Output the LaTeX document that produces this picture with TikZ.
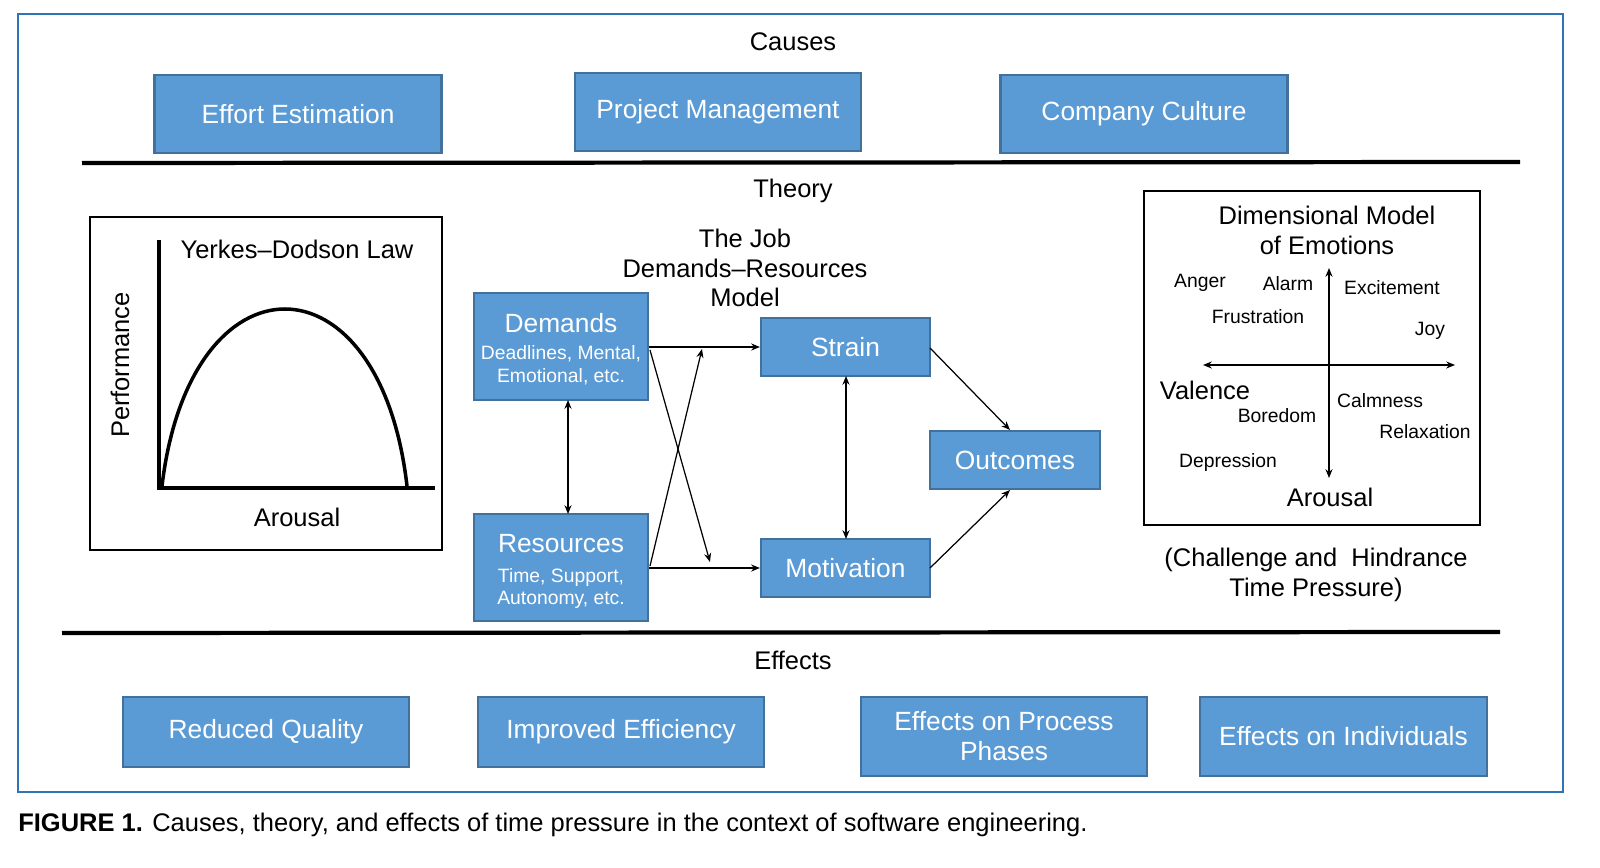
\documentclass[tikz,border=0pt]{standalone}
\usepackage{fontspec}
\setmainfont{Liberation Sans}
\usetikzlibrary{arrows.meta}
\definecolor{boxfill}{HTML}{5B9BD5}
\definecolor{boxline}{HTML}{41719C}
\definecolor{frame}{HTML}{2E75B6}
\begin{document}
\begin{tikzpicture}[x=0.02cm,y=-0.02cm,
  blk/.style 2 args={draw=boxline, line width=1.2pt, fill=boxfill, text=white,
    font=\fontsize{15}{17}\selectfont, align=center, inner sep=0pt,
    minimum width=#1*0.02cm, minimum height=#2*0.02cm},
  lbl/.style={font=\fontsize{14.5}{16}\selectfont, align=center, inner sep=0pt},
  sm/.style={font=\fontsize{11}{12}\selectfont, inner sep=0pt},
  sub/.style={font=\fontsize{11}{13}\selectfont, align=center, inner sep=0pt},
  arr/.style={-{Stealth[length=5pt,width=4pt]}, line width=0.7pt},
  darr/.style={{Stealth[length=5pt,width=4pt]}-{Stealth[length=5pt,width=4pt]}, line width=0.7pt},
  sep/.style={line width=2.4pt}]
\useasboundingbox (0,0) rectangle (1600,868);
\draw[frame, line width=1.6pt] (18,14) rectangle (1563,792);

% Causes
\node[lbl] (causes) at (793,42) {Causes};
\node[blk={287}{78}] (effort) at (298,114) {Effort Estimation};
\node[blk={286}{78}] (pm) at (718,112) {Project Management};
\node[blk={287}{78}] (culture) at (1144,114) {Company Culture};
\coordinate (s1a) at (82,163); \coordinate (s1b) at (1520,162);
\draw[sep] (s1a) -- (s1b);

% Theory
\node[lbl] (theory) at (793,191) {Theory};

% Yerkes-Dodson
\node[draw, line width=1pt, minimum width=352*0.02cm, minimum height=333*0.02cm, inner sep=0pt] (yd) at (266,383.5) {};
\coordinate (yo) at (159,488); \coordinate (yt) at (159,240); \coordinate (yr) at (435,488);
\draw[line width=2pt] (yt) -- (yo) -- (yr);
\draw[line width=2pt] (162,486) .. controls (190,250) and (380,250) .. (407,486);
\node[lbl] (ydl) at (297,249) {Yerkes–Dodson Law};
\node[lbl, rotate=90] (perf) at (120,365) {Performance};
\node[lbl] (yar) at (297,517) {Arousal};

% JD-R model
\node[lbl, font=\fontsize{14.5}{17}\selectfont] (jdr) at (745,268) {The Job\\Demands–Resources\\Model};
\node[blk={174}{107}] (dem) at (561,346.5) {};
\node[lbl, text=white, font=\fontsize{15}{17}\selectfont] (demt) at (561,323) {Demands};
\node[sub, text=white] (dems) at (561,365) {Deadlines, Mental,\\Emotional, etc.};
\node[blk={174}{107}] (res) at (561,567.5) {};
\node[lbl, text=white, font=\fontsize{15}{17}\selectfont] (rest) at (561,544) {Resources};
\node[sub, text=white] (ress) at (561,588.5) {Time, Support,\\Autonomy, etc.};
\node[blk={169}{58}] (strain) at (845.5,347) {Strain};
\node[blk={169}{58}] (mot) at (845.5,568) {Motivation};
\node[blk={170}{58}] (out) at (1015,460) {Outcomes};

\draw[arr] (dem.east |- strain) -- (strain.west);
\draw[arr] (res.east |- mot) -- (mot.west);
\draw[darr] (568,400) -- (568,514);
\draw[darr] (846,376) -- (846,539);
\draw[arr] (650,350) -- (710,562);
\draw[arr] (650,566) -- (702,349);
\draw[arr] (930,348) -- (1010,430);
\draw[arr] (930,568) -- (1010,490);

% Dimensional model
\node[draw, line width=1pt, minimum width=336*0.02cm, minimum height=334*0.02cm, inner sep=0pt] (dm) at (1312,358) {};
\node[lbl, font=\fontsize{14.5}{17}\selectfont] (dmt) at (1327,230) {Dimensional Model\\of Emotions};
\coordinate (vt) at (1329,268); \coordinate (vb) at (1329,478);
\coordinate (hl) at (1203,365); \coordinate (hr) at (1455,365);
\draw[darr] (vt) -- (vb);
\draw[darr] (hl) -- (hr);
\node[sm] (anger) at (1200,283) {Anger};
\node[sm] (alarm) at (1288,284) {Alarm};
\node[sm] (exc) at (1392,288) {Excitement};
\node[sm] (frus) at (1258,317) {Frustration};
\node[sm] (joy) at (1430,331) {Joy};
\node[lbl] (val) at (1205,390) {Valence};
\node[sm] (bor) at (1277,416) {Boredom};
\node[sm] (calm) at (1380,401) {Calmness};
\node[sm] (relax) at (1425,432) {Relaxation};
\node[sm] (dep) at (1228,463) {Depression};
\node[lbl] (dar) at (1330,497) {Arousal};
\node[lbl, font=\fontsize{14.5}{17.5}\selectfont] (chal) at (1316,575) {(Challenge and\ \ Hindrance\\Time Pressure)};

\coordinate (s2a) at (62,633); \coordinate (s2b) at (1500,632);
\draw[sep] (s2a) -- (s2b);

% Effects
\node[lbl] (effects) at (793,660) {Effects};
\node[blk={286}{70}] (rq) at (266,732) {Reduced Quality};
\node[blk={286}{70}] (ie) at (621,732) {Improved Efficiency};
\node[blk={286}{79}] (epp) at (1004,736.5) {Effects on Process\\Phases};
\node[blk={287}{79}] (ei) at (1343.5,736.5) {Effects on Individuals};

% Caption
\node[anchor=west, inner sep=0pt, font=\fontsize{14.5}{16}\selectfont] (cap) at (18,825)
  {\textbf{FIGURE 1.} Causes, theory, and effects of time pressure in the context of software engineering.};
\end{tikzpicture}
\end{document}
